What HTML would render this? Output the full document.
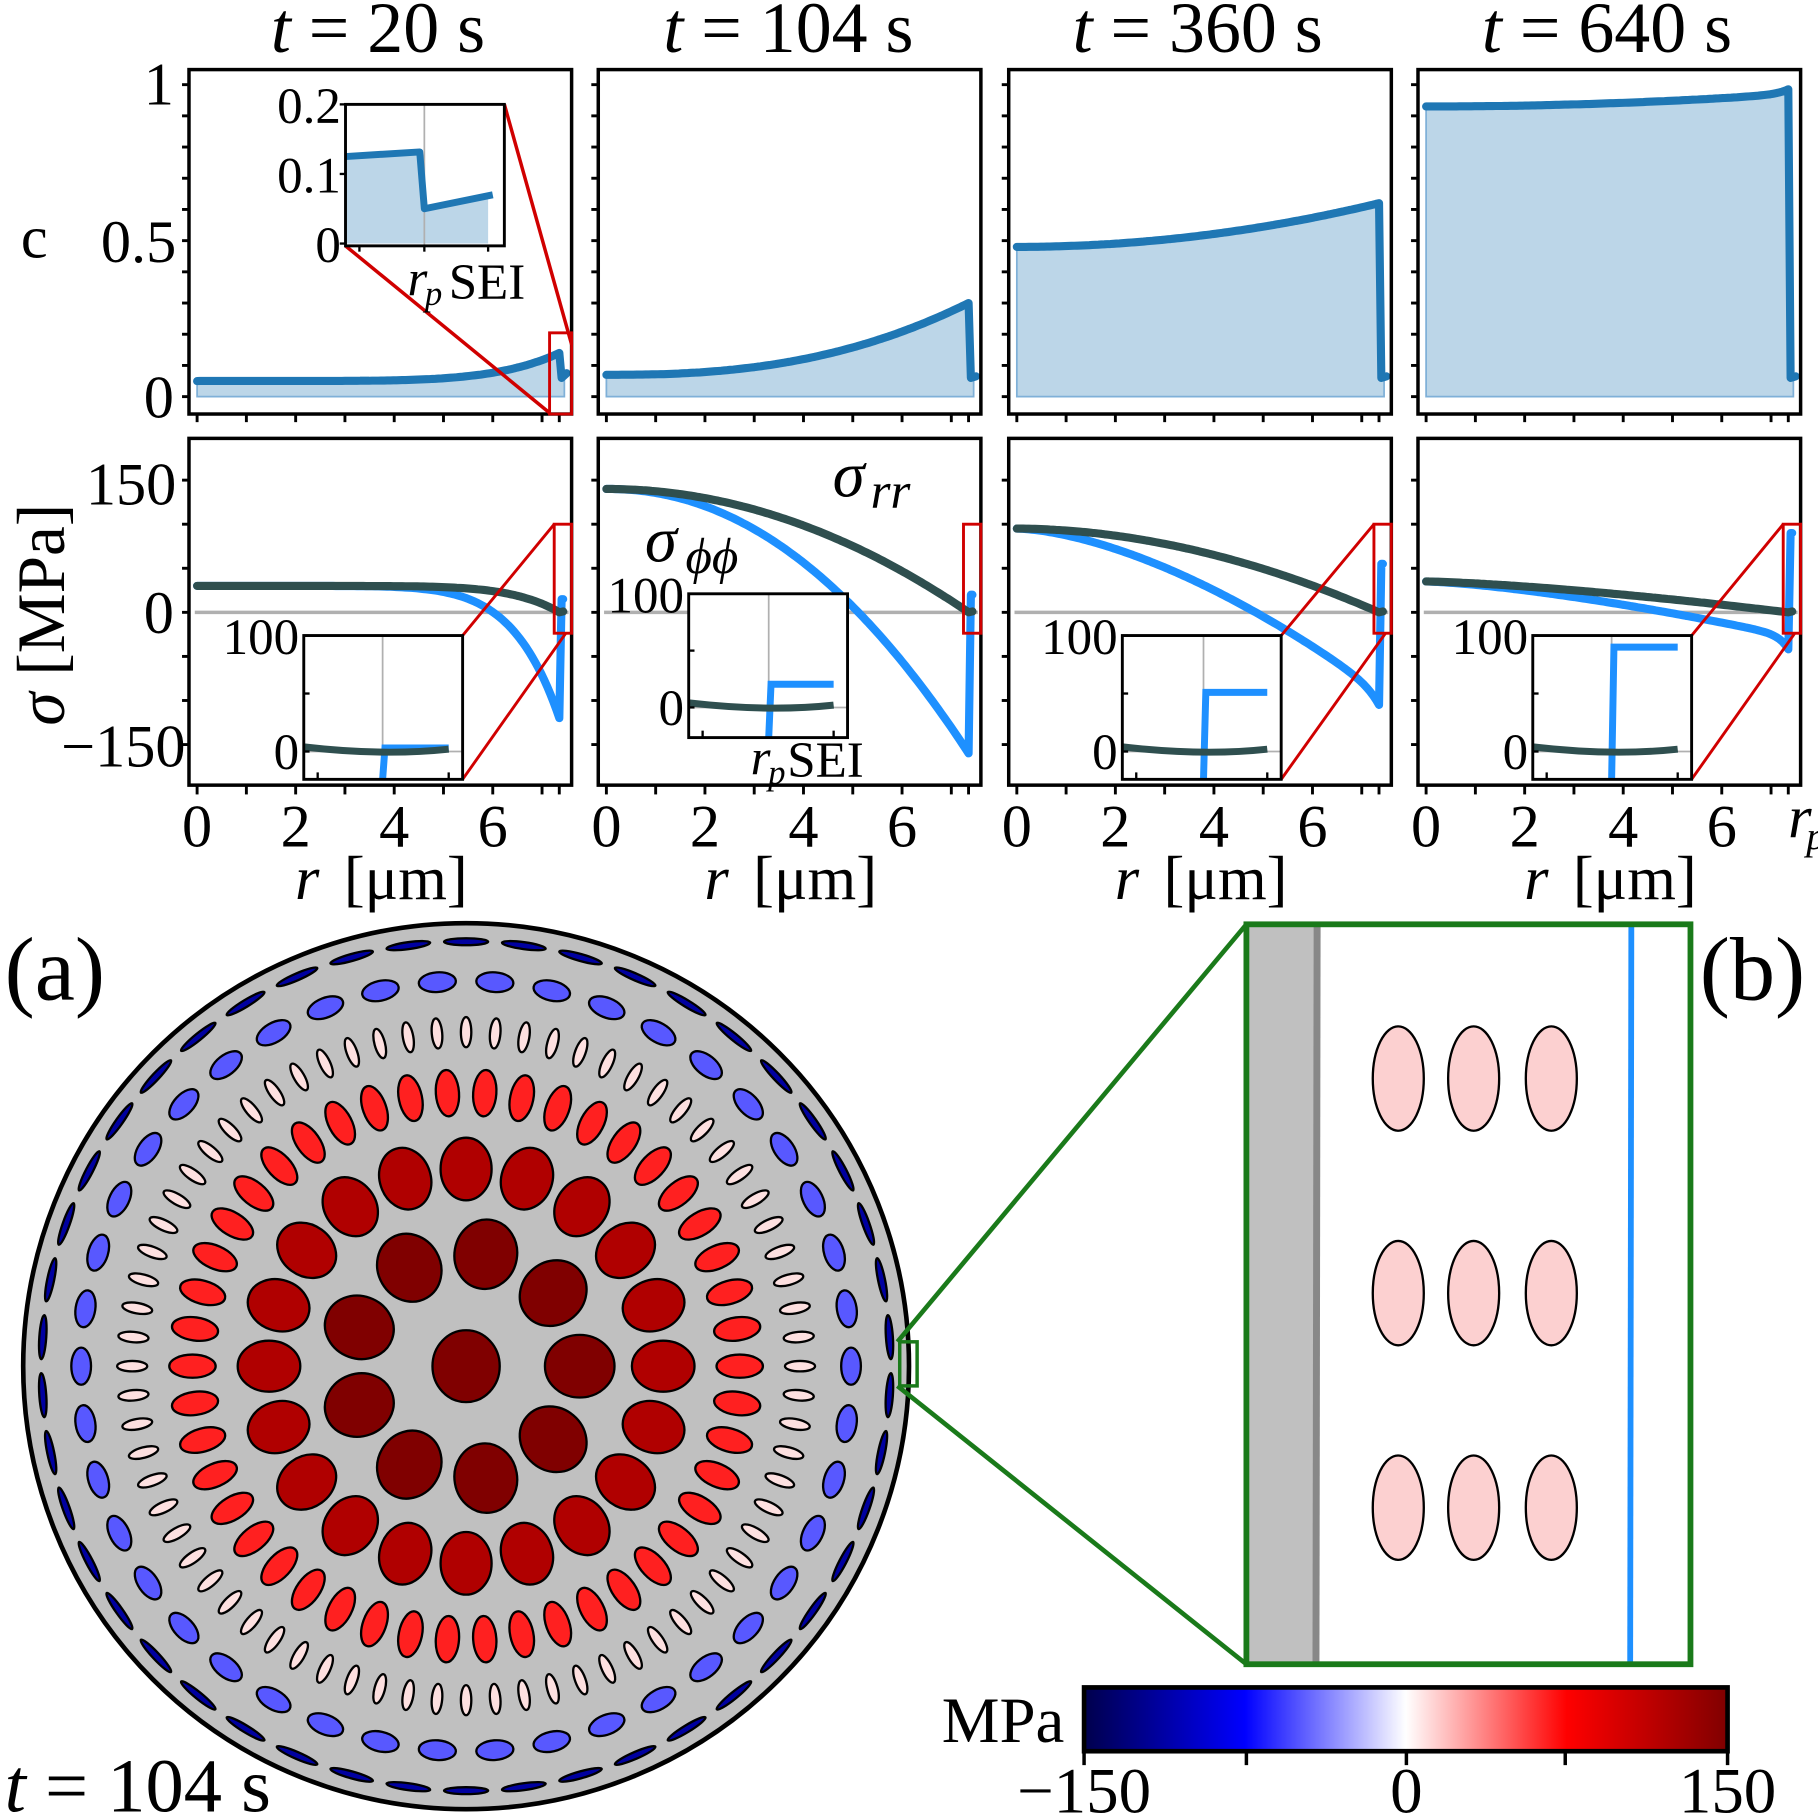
<!DOCTYPE html>
<html><head><meta charset="utf-8"><style>
html,body{margin:0;padding:0;background:#fff;}
svg{display:block;}
text{font-family:"Liberation Serif","DejaVu Serif",serif;fill:#000;}
</style></head><body>
<svg id="s" width="1818" height="1815" viewBox="0 0 1568 1565" preserveAspectRatio="none" xmlns="http://www.w3.org/2000/svg">
<defs>
<linearGradient id="cb" x1="0" x2="1" y1="0" y2="0">
<stop offset="0" stop-color="#00004c"/><stop offset="0.25" stop-color="#0000ff"/><stop offset="0.5" stop-color="#ffffff"/><stop offset="0.75" stop-color="#ff0000"/><stop offset="1" stop-color="#800000"/>
</linearGradient>
</defs>
<g id="g"></g>
<g font-size="62" text-anchor="middle">
<text x="326" y="45"><tspan font-style="italic">t</tspan> = 20 s</text>
<text x="680" y="45"><tspan font-style="italic">t</tspan> = 104 s</text>
<text x="1033" y="45"><tspan font-style="italic">t</tspan> = 360 s</text>
<text x="1386" y="45"><tspan font-style="italic">t</tspan> = 640 s</text>
</g>
<g font-size="52">
<text x="18" y="222">c</text>
<text x="150" y="90" text-anchor="end">1</text>
<text x="152" y="226" text-anchor="end">0.5</text>
<text x="150" y="360" text-anchor="end">0</text>
<text x="152" y="435" text-anchor="end">150</text>
<text x="150" y="546" text-anchor="end">0</text>
<text x="160" y="661" text-anchor="end">−150</text>
<text transform="translate(55,530) rotate(-90)" text-anchor="middle" font-size="58"><tspan font-style="italic">σ</tspan> [MPa]</text>
</g>
<text x="4" y="862" font-size="78">(a)</text>
<text x="1466" y="862" font-size="78">(b)</text>
<text x="4" y="1562" font-size="66"><tspan font-style="italic">t</tspan> = 104 s</text>
<text x="918" y="1502" font-size="56" text-anchor="end">MPa</text>
<g font-size="56" text-anchor="middle">
<text x="935" y="1563">−150</text><text x="1213" y="1563">0</text><text x="1490" y="1563">150</text>
</g>
</svg>
<script>
var g=document.getElementById('g');var NS="http://www.w3.org/2000/svg";
function el(t,a,p){var e=document.createElementNS(NS,t);for(var k in a)e.setAttribute(k,a[k]);(p||g).appendChild(e);return e;}
function txt(x,y,s,sz,anc,it){var e=el('text',{x:x,y:y,'font-size':sz,'text-anchor':anc||'middle'});if(it)e.setAttribute('font-style','italic');e.textContent=s;return e;}
var X0=[170,523,877,1230],PL=[163,516,870,1223],PW=330;
var RP=7.35;
function cy(c){return 342-c*269;}
function sy(s){return 528-s*0.76;}
var cf=[
 function(r){var x=r/RP;return 0.05+0.09*Math.pow(x,6);},
 function(r){var x=r/RP;return 0.07+0.23*Math.pow(x,2.5);},
 function(r){var x=r/RP;return 0.48+0.14*Math.pow(x,2);},
 function(r){var x=r/RP;return 0.93+0.04*Math.pow(x,2)+0.015*Math.pow(x,30);}];
var cend=[[0.06,0.075],[0.06,0.065],[0.06,0.065],[0.06,0.065]];
var srr=[function(x){return 30*(1-Math.pow(x,8));},function(x){return 140*(1-x*x);},function(x){return 95*(1-Math.pow(x,1.9));},function(x){return 35*(1-Math.pow(x,1.4));}];
var sff=[function(x){return 30-150*Math.pow(x,8);},function(x){return 140-300*Math.pow(x,2.1);},function(x){return 95-185*Math.pow(x,1.6)-15*Math.pow(x,30);},function(x){return 35-62*Math.pow(x,1.4)-15*Math.pow(x,40);}];
var sjump=[15,20,55,90];
for(var p=0;p<4;p++){
 var x0=X0[p],L=PL[p];
 var pts=[];for(var i=0;i<=120;i++){var r=RP*i/120;pts.push([x0+r*42.5,cy(cf[p](r))]);}
 var xe=x0+7.5*42.5;
 var fill="M"+x0+","+cy(0);pts.forEach(function(q){fill+=" L"+q[0].toFixed(1)+","+q[1].toFixed(1);});
 fill+=" L"+(x0+RP*42.5+2)+","+cy(cend[p][0])+" L"+(xe-2)+","+cy(cend[p][1])+" L"+(xe-2)+","+cy(0)+"Z";
 el('path',{d:fill,fill:'#bcd6e8',stroke:'#7fb0d8','stroke-width':1.5});
 var d="M"+pts.map(function(q){return q[0].toFixed(1)+","+q[1].toFixed(1);}).join(" L");
 d+=" L"+(x0+RP*42.5+2)+","+cy(cend[p][0])+" L"+xe+","+cy(cend[p][1]);
 el('path',{d:d,fill:'none',stroke:'#1f77b4','stroke-width':7,'stroke-linejoin':'round','stroke-linecap':'round'});
 el('rect',{x:L,y:60,width:PW,height:297,fill:'none',stroke:'#000','stroke-width':3});
 for(var k=0;k<=10;k++){var yy=cy(k/10);el('line',{x1:L-6,x2:L,y1:yy,y2:yy,stroke:'#000','stroke-width':2.5});}
 for(var k=0;k<=8;k++){var xx=k<8?x0+k*42.5:x0+RP*42.5;el('line',{x1:xx,x2:xx,y1:357,y2:364,stroke:'#000','stroke-width':2.5});}
 el('line',{x1:x0-2,x2:x0+RP*42.5+8,y1:sy(0),y2:sy(0),stroke:'#b0b0b0','stroke-width':3});
 var a=[],b=[];for(var i=0;i<=120;i++){var x=i/120;var xx=x0+x*RP*42.5;a.push(xx.toFixed(1)+","+sy(srr[p](x)).toFixed(1));b.push(xx.toFixed(1)+","+sy(sff[p](x)).toFixed(1));}
 var xr=x0+RP*42.5;
 el('path',{d:"M"+b.join(" L")+" L"+(xr+2)+","+sy(sjump[p])+" L"+(xe-3)+","+sy(sjump[p]),fill:'none',stroke:'#1e90ff','stroke-width':7,'stroke-linejoin':'round','stroke-linecap':'round'});
 el('path',{d:"M"+a.join(" L")+" L"+(xe-3)+","+sy(1),fill:'none',stroke:'#2f4f4f','stroke-width':7,'stroke-linejoin':'round','stroke-linecap':'round'});
 el('rect',{x:L,y:378,width:PW,height:299,fill:'none',stroke:'#000','stroke-width':3});
 for(var k=-3;k<=4;k++){var yy=sy(k*50);if(yy<380||yy>676)continue;el('line',{x1:L-6,x2:L,y1:yy,y2:yy,stroke:'#000','stroke-width':2.5});}
 for(var k=0;k<=8;k++){var xx=k<8?x0+k*42.5:x0+RP*42.5;el('line',{x1:xx,x2:xx,y1:677,y2:685,stroke:'#000','stroke-width':2.5});}
 for(var k=0;k<=6;k+=2)txt(x0+k*42.5,730,String(k),52);
 if(p==3){txt(xr+10,722,'r',52,'middle',true);txt(xr+24,732,'p',34,'middle',true);}
 txt(x0+95,775,'r',54,'middle',true);
 txt(x0+180,775,'[μm]',54);
 el('rect',{x:L+315,y:452,width:15,height:94,fill:'none',stroke:'#d00000','stroke-width':2.5});
}
el('line',{x1:435,y1:90,x2:493,y2:297,stroke:'#d00000','stroke-width':3});
el('line',{x1:298,y1:212,x2:474,y2:356,stroke:'#d00000','stroke-width':3});
el('rect',{x:474,y:287,width:19,height:70,fill:'none',stroke:'#d00000','stroke-width':2.5});
el('rect',{x:298,y:90,width:137,height:122,fill:'#fff',stroke:'none'});
el('path',{d:"M298,210 L298,135 L362,130 L366,180 L421,168 L421,210Z",fill:'#bcd6e8'});
el('line',{x1:366,x2:366,y1:90,y2:212,stroke:'#b0b0b0','stroke-width':1.5});
el('path',{d:"M298,135 L362,131 L366,180 L425,168",fill:'none',stroke:'#1f77b4','stroke-width':6,'stroke-linejoin':'round'});
el('rect',{x:298,y:90,width:137,height:122,fill:'none',stroke:'#000','stroke-width':2.5});
[90,150,210].forEach(function(y){el('line',{x1:293,x2:298,y1:y,y2:y,stroke:'#000','stroke-width':2});});
[310,366,421].forEach(function(x){el('line',{x1:x,x2:x,y1:212,y2:217,stroke:'#000','stroke-width':2});});
txt(294,106,'0.2',44,'end');txt(294,166,'0.1',44,'end');txt(294,226,'0',44,'end');
txt(360,255,'r',44,'middle',true);txt(374,263,'p',30,'middle',true);txt(420,258,'SEI',44);
var ins=[[262,548,330,648,645],[594,512,663,610,590],[968,548,1038,648,597],[1322,548,1390,648,558]];
ins.forEach(function(v,i){
 var bx=v[0],by=v[1],vx=v[2],y0=v[3],jy=v[4],w=137,h=124;
 var rl=PL[i]+315;
 if(i!=1){
 el('line',{x1:bx+w,y1:by,x2:rl,y2:452,stroke:'#d00000','stroke-width':2.5});
 el('line',{x1:bx+w,y1:by+h,x2:rl+10,y2:546,stroke:'#d00000','stroke-width':2.5});}
 el('rect',{x:bx,y:by,width:w,height:h,fill:'#fff',stroke:'none'});
 el('line',{x1:vx,x2:vx,y1:by,y2:by+h,stroke:'#b0b0b0','stroke-width':1.5});
 el('line',{x1:bx,x2:bx+w,y1:y0,y2:y0,stroke:'#b0b0b0','stroke-width':1.5});
 el('path',{d:"M"+vx+","+(by+h)+" L"+(vx+2)+","+jy+" L"+(bx+w-12)+","+jy,fill:'none',stroke:'#1e90ff','stroke-width':6});
 el('path',{d:"M"+bx+","+(y0-4)+" Q"+(vx)+","+(y0+4)+" "+(bx+w-12)+","+(y0-2),fill:'none',stroke:'#2f4f4f','stroke-width':6});
 el('rect',{x:bx,y:by,width:w,height:h,fill:'none',stroke:'#000','stroke-width':2.5});
 [by,(by+y0)/2,y0].forEach(function(y){el('line',{x1:bx,x2:bx+5,y1:y,y2:y,stroke:'#000','stroke-width':2});});
 [bx+12,bx+w-12].forEach(function(x){el('line',{x1:x,x2:x,y1:by+h,y2:by+h-6,stroke:'#000','stroke-width':2});});
 txt(bx-4,by+16,'100',44,'end');txt(bx-4,y0+15,'0',44,'end');
});
txt(656,668,'r',44,'middle',true);txt(670,676,'p',30,'middle',true);txt(712,670,'SEI',44);
txt(732,428,'σ',56,'middle',true);txt(768,438,'rr',44,'middle',true);
txt(570,484,'σ',56,'middle',true);txt(614,494,'ϕϕ',44,'middle',true);
var CX=402,CY=1178,R=382;
el('circle',{cx:CX,cy:CY,r:R,fill:'#c0c0c0',stroke:'#000','stroke-width':4});
function ring(n,rad,rr,rt,col,off){for(var i=0;i<n;i++){var a=2*Math.PI*(i+off)/n;var x=CX+rad*Math.cos(a),y=CY+rad*Math.sin(a);
 el('ellipse',{cx:x.toFixed(1),cy:y.toFixed(1),rx:rr,ry:rt,fill:col,stroke:'#000','stroke-width':2,transform:'rotate('+(a*180/Math.PI).toFixed(1)+' '+x.toFixed(1)+' '+y.toFixed(1)+')'});}}
el('ellipse',{cx:CX,cy:CY,rx:29,ry:31,fill:'#800000',stroke:'#000','stroke-width':2});
ring(9,98,30,27,'#800000',0);
ring(20,170,27,22,'#b00000',0);
ring(46,236,20,10,'#ff2020',0);
ring(72,288,13,4.5,'#fde0e0',0);
ring(42,332,8.5,16,'#5858ff',0);
ring(46,366,3,19,'#0000a0',0.5);
el('rect',{x:776,y:1157,width:15,height:38,fill:'none',stroke:'#1a7a1a','stroke-width':3});
el('line',{x1:774,y1:1157,x2:1075,y2:797,stroke:'#1a7a1a','stroke-width':4});
el('line',{x1:774,y1:1195,x2:1075,y2:1435,stroke:'#1a7a1a','stroke-width':4});
el('rect',{x:1075,y:797,width:60,height:638,fill:'#c0c0c0'});
el('line',{x1:1136,x2:1135,y1:797,y2:1435,stroke:'#888','stroke-width':6});
el('line',{x1:1407,x2:1406,y1:797,y2:1435,stroke:'#1e90ff','stroke-width':5});
[930,1115,1300].forEach(function(y){[1206,1271,1338].forEach(function(x){el('ellipse',{cx:x,cy:y,rx:22,ry:45,fill:'#fcd0d0',stroke:'#000','stroke-width':2});});});
el('rect',{x:1075,y:797,width:383,height:638,fill:'none',stroke:'#1a7a1a','stroke-width':5});
el('rect',{x:935,y:1455,width:555,height:55,fill:'url(#cb)',stroke:'#000','stroke-width':4});
[935,1075,1213,1350,1490].forEach(function(x){el('line',{x1:x,x2:x,y1:1510,y2:1522,stroke:'#000','stroke-width':3});});
</script>
</body></html>
